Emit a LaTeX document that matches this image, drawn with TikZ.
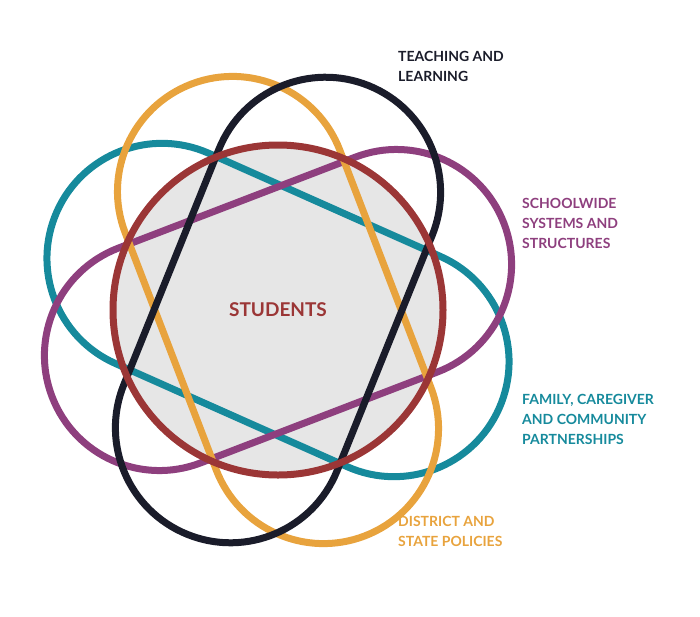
\documentclass[tikz,border=0pt]{standalone}
\usepackage{fontspec}
\setmainfont{Lato}
\definecolor{corange}{HTML}{E8A33D}
\definecolor{cblack}{HTML}{1A1C2A}
\definecolor{cteal}{HTML}{168A9C}
\definecolor{cpurple}{HTML}{8E3F7E}
\definecolor{cred}{HTML}{9B3636}
\definecolor{cgray}{HTML}{E6E6E6}
\begin{document}
\begin{tikzpicture}[x=1pt,y=1pt,
  ring/.style={line width=7pt,rounded corners=115pt},
  lbl/.style={font=\fontsize{14}{20}\selectfont\bfseries,align=left,anchor=north west,inner sep=0pt}]
\useasboundingbox (0,0) rectangle (700,-616);
\coordinate (c) at (278,-310);
\fill[cgray] (c) circle (165);
\begin{scope}[shift={(c)},rotate=-24]\draw[ring,cteal] (-242,-115) rectangle (242,115);\end{scope}
\begin{scope}[shift={(c)},rotate=21]\draw[ring,cpurple] (-242,-115) rectangle (242,115);\end{scope}
\begin{scope}[shift={(c)},rotate=111]\draw[ring,corange] (-242,-115) rectangle (242,115);\end{scope}
\begin{scope}[shift={(c)},rotate=68]\draw[ring,cblack] (-242,-115) rectangle (242,115);\end{scope}
\draw[cred,line width=7pt] (c) circle (165);
\node[font=\fontsize{19}{20}\selectfont\bfseries,text=cred] (s) at (c) {STUDENTS};
\node[lbl,text=cblack] (t) at (398,-51) {TEACHING AND\\LEARNING};
\node[lbl,text=cpurple] (p) at (522,-198) {SCHOOLWIDE\\SYSTEMS AND\\STRUCTURES};
\node[lbl,text=cteal] (f) at (522,-394) {FAMILY, CAREGIVER\\AND COMMUNITY\\PARTNERSHIPS};
\node[lbl,text=corange] (d) at (398,-516) {DISTRICT AND\\STATE POLICIES};
\end{tikzpicture}
\end{document}
